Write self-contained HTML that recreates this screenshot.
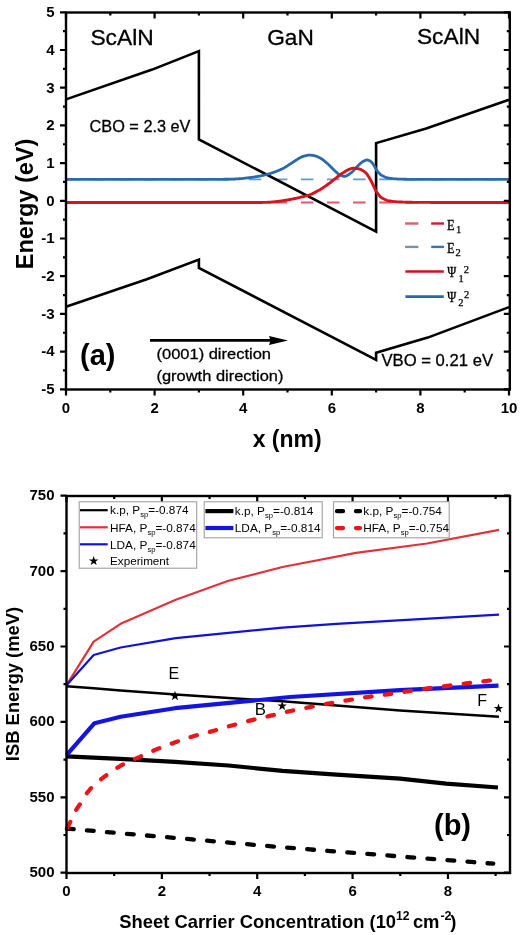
<!DOCTYPE html>
<html><head><meta charset="utf-8"><title>Band diagram and ISB energy</title>
<style>html,body{margin:0;padding:0;background:#fff;} svg{display:block;}</style></head>
<body><svg width="520" height="935" viewBox="0 0 520 935">
<rect width="520" height="935" fill="#fff"/>
<line x1="66.0" y1="179.4" x2="509.8" y2="179.4" stroke="#4a86c4" stroke-width="1.8" stroke-opacity="0.85" stroke-dasharray="12.5 13.6"/>
<line x1="66.0" y1="202.5" x2="509.8" y2="202.5" stroke="#e23a4c" stroke-width="1.8" stroke-opacity="0.85" stroke-dasharray="12.5 13.6"/>
<path d="M66,99.39 L152.2,69.6 L198.9,51.13 L198.9,139.35 L376.1,231.71 L376.1,143.12 L426.2,128.4 L509,99.76" fill="none" stroke="#000" stroke-width="2.6" stroke-linejoin="miter"/>
<path d="M66,306.74 L146.8,279.3 L198.9,259.61 L198.9,267.91 L376.1,359.89 L376.1,352.73 L427.7,337.6 L509,307.11" fill="none" stroke="#000" stroke-width="2.6" stroke-linejoin="miter"/>
<path d="M66,179.4 L67,179.4 L68,179.4 L69,179.4 L70,179.4 L71,179.4 L72,179.4 L73,179.4 L74,179.4 L75,179.4 L76,179.4 L77,179.4 L78,179.4 L79,179.4 L80,179.4 L81,179.4 L82,179.4 L83,179.4 L84,179.4 L85,179.4 L86,179.4 L87,179.4 L88,179.4 L89,179.4 L90,179.4 L91,179.4 L92,179.4 L93,179.4 L94,179.4 L95,179.4 L96,179.4 L97,179.4 L98,179.4 L99,179.4 L100,179.4 L101,179.4 L102,179.4 L103,179.4 L104,179.4 L105,179.4 L106,179.4 L107,179.4 L108,179.4 L109,179.4 L110,179.4 L111,179.4 L112,179.4 L113,179.4 L114,179.4 L115,179.4 L116,179.4 L117,179.4 L118,179.4 L119,179.4 L120,179.4 L121,179.4 L122,179.4 L123,179.4 L124,179.4 L125,179.4 L126,179.4 L127,179.4 L128,179.4 L129,179.4 L130,179.4 L131,179.4 L132,179.4 L133,179.4 L134,179.4 L135,179.4 L136,179.4 L137,179.4 L138,179.4 L139,179.4 L140,179.4 L141,179.4 L142,179.4 L143,179.4 L144,179.4 L145,179.4 L146,179.4 L147,179.4 L148,179.4 L149,179.4 L150,179.4 L151,179.4 L152,179.4 L153,179.4 L154,179.4 L155,179.4 L156,179.4 L157,179.4 L158,179.4 L159,179.4 L160,179.4 L161,179.4 L162,179.4 L163,179.4 L164,179.4 L165,179.4 L166,179.4 L167,179.4 L168,179.4 L169,179.4 L170,179.4 L171,179.4 L172,179.4 L173,179.4 L174,179.4 L175,179.4 L176,179.4 L177,179.4 L178,179.4 L179,179.4 L180,179.4 L181,179.4 L182,179.4 L183,179.4 L184,179.4 L185,179.4 L186,179.4 L187,179.4 L188,179.4 L189,179.4 L190,179.4 L191,179.4 L192,179.4 L193,179.4 L194,179.4 L195,179.4 L196,179.4 L197,179.4 L198,179.4 L199,179.4 L200,179.4 L201,179.4 L202,179.4 L203,179.4 L204,179.4 L205,179.39 L206,179.39 L207,179.39 L208,179.39 L209,179.38 L210,179.38 L211,179.37 L212,179.37 L213,179.36 L214,179.36 L215,179.35 L216,179.34 L217,179.34 L218,179.33 L219,179.32 L220,179.31 L221,179.3 L222,179.29 L223,179.28 L224,179.27 L225,179.26 L226,179.25 L227,179.24 L228,179.23 L229,179.21 L230,179.2 L231,179.18 L232,179.15 L233,179.12 L234,179.07 L235,179.02 L236,178.96 L237,178.9 L238,178.84 L239,178.77 L240,178.7 L241,178.63 L242,178.54 L243,178.44 L244,178.34 L245,178.22 L246,178.11 L247,177.98 L248,177.86 L249,177.73 L250,177.6 L251,177.47 L252,177.33 L253,177.19 L254,177.04 L255,176.89 L256,176.73 L257,176.57 L258,176.4 L259,176.22 L260,176.04 L261,175.85 L262,175.66 L263,175.45 L264,175.23 L265,175 L266,174.75 L267,174.49 L268,174.2 L269,173.91 L270,173.6 L271,173.28 L272,172.95 L273,172.61 L274,172.25 L275,171.88 L276,171.49 L277,171.1 L278,170.69 L279,170.27 L280,169.84 L281,169.38 L282,168.91 L283,168.41 L284,167.89 L285,167.33 L286,166.72 L287,166.09 L288,165.44 L289,164.8 L290,164.15 L291,163.49 L292,162.81 L293,162.14 L294,161.49 L295,160.84 L296,160.2 L297,159.55 L298,158.92 L299,158.33 L300,157.8 L301,157.3 L302,156.83 L303,156.42 L304,156.1 L305,155.84 L306,155.59 L307,155.37 L308,155.21 L309,155.11 L310,155.11 L311,155.18 L312,155.31 L313,155.49 L314,155.69 L315,155.9 L316,156.16 L317,156.51 L318,156.93 L319,157.4 L320,157.9 L321,158.47 L322,159.12 L323,159.85 L324,160.64 L325,161.47 L326,162.33 L327,163.2 L328,164.06 L329,164.98 L330,165.96 L331,166.97 L332,168 L333,169.02 L334,170.01 L335,170.94 L336,171.84 L337,172.77 L338,173.67 L339,174.44 L340,175 L341,175.41 L342,175.79 L343,176.09 L344,176.27 L345,176.28 L346,176.05 L347,175.62 L348,175.05 L349,174.37 L350,173.66 L351,172.96 L352,172.12 L353,171.12 L354,170.02 L355,168.9 L356,167.8 L357,166.81 L358,165.84 L359,164.85 L360,163.88 L361,162.98 L362,162.19 L363,161.55 L364,161.01 L365,160.5 L366,160.13 L367,160 L368,160.16 L369,160.52 L370,161.03 L371,161.63 L372,162.65 L373,164.02 L374,165.5 L375,167.28 L376,169.18 L377,170.73 L378,171.97 L379,173.09 L380,174.07 L381,174.87 L382,175.49 L383,176.04 L384,176.53 L385,176.96 L386,177.32 L387,177.63 L388,177.87 L389,178.08 L390,178.28 L391,178.45 L392,178.61 L393,178.73 L394,178.83 L395,178.9 L396,178.95 L397,178.99 L398,179.04 L399,179.08 L400,179.11 L401,179.15 L402,179.18 L403,179.21 L404,179.23 L405,179.25 L406,179.27 L407,179.28 L408,179.29 L409,179.3 L410,179.3 L411,179.3 L412,179.3 L413,179.3 L414,179.3 L415,179.3 L416,179.3 L417,179.3 L418,179.3 L419,179.3 L420,179.3 L421,179.3 L422,179.3 L423,179.3 L424,179.3 L425,179.3 L426,179.3 L427,179.3 L428,179.3 L429,179.3 L430,179.3 L431,179.3 L432,179.3 L433,179.3 L434,179.3 L435,179.3 L436,179.3 L437,179.3 L438,179.3 L439,179.3 L440,179.3 L441,179.3 L442,179.3 L443,179.3 L444,179.3 L445,179.3 L446,179.3 L447,179.3 L448,179.3 L449,179.3 L450,179.3 L451,179.3 L452,179.3 L453,179.3 L454,179.3 L455,179.3 L456,179.3 L457,179.3 L458,179.3 L459,179.3 L460,179.3 L461,179.3 L462,179.3 L463,179.3 L464,179.3 L465,179.3 L466,179.3 L467,179.3 L468,179.3 L469,179.3 L470,179.3 L471,179.3 L472,179.3 L473,179.3 L474,179.3 L475,179.3 L476,179.3 L477,179.3 L478,179.3 L479,179.3 L480,179.3 L481,179.3 L482,179.3 L483,179.3 L484,179.3 L485,179.3 L486,179.3 L487,179.3 L488,179.3 L489,179.3 L490,179.3 L491,179.3 L492,179.3 L493,179.3 L494,179.3 L495,179.3 L496,179.3 L497,179.3 L498,179.3 L499,179.3 L500,179.3 L501,179.3 L502,179.3 L503,179.3 L504,179.3 L505,179.3 L506,179.3 L507,179.3 L508,179.3 L509,179.3" fill="none" stroke="#2a6aab" stroke-width="2.8" stroke-linejoin="round"/>
<path d="M66,202.5 L67,202.5 L68,202.5 L69,202.5 L70,202.5 L71,202.5 L72,202.5 L73,202.5 L74,202.5 L75,202.5 L76,202.5 L77,202.5 L78,202.5 L79,202.5 L80,202.5 L81,202.5 L82,202.5 L83,202.5 L84,202.5 L85,202.5 L86,202.5 L87,202.5 L88,202.5 L89,202.5 L90,202.5 L91,202.5 L92,202.5 L93,202.5 L94,202.5 L95,202.5 L96,202.5 L97,202.5 L98,202.5 L99,202.5 L100,202.5 L101,202.5 L102,202.5 L103,202.5 L104,202.5 L105,202.5 L106,202.5 L107,202.5 L108,202.5 L109,202.5 L110,202.5 L111,202.5 L112,202.5 L113,202.5 L114,202.5 L115,202.5 L116,202.5 L117,202.5 L118,202.5 L119,202.5 L120,202.5 L121,202.5 L122,202.5 L123,202.5 L124,202.5 L125,202.5 L126,202.5 L127,202.5 L128,202.5 L129,202.5 L130,202.5 L131,202.5 L132,202.5 L133,202.5 L134,202.5 L135,202.5 L136,202.5 L137,202.5 L138,202.5 L139,202.5 L140,202.5 L141,202.5 L142,202.5 L143,202.5 L144,202.5 L145,202.5 L146,202.5 L147,202.5 L148,202.5 L149,202.5 L150,202.5 L151,202.5 L152,202.5 L153,202.5 L154,202.5 L155,202.5 L156,202.5 L157,202.5 L158,202.5 L159,202.5 L160,202.5 L161,202.5 L162,202.5 L163,202.5 L164,202.5 L165,202.5 L166,202.5 L167,202.5 L168,202.5 L169,202.5 L170,202.5 L171,202.5 L172,202.5 L173,202.5 L174,202.5 L175,202.5 L176,202.5 L177,202.5 L178,202.5 L179,202.5 L180,202.5 L181,202.5 L182,202.5 L183,202.5 L184,202.5 L185,202.5 L186,202.5 L187,202.5 L188,202.5 L189,202.5 L190,202.5 L191,202.5 L192,202.5 L193,202.5 L194,202.5 L195,202.5 L196,202.5 L197,202.5 L198,202.5 L199,202.5 L200,202.5 L201,202.5 L202,202.5 L203,202.5 L204,202.5 L205,202.5 L206,202.5 L207,202.5 L208,202.5 L209,202.5 L210,202.5 L211,202.5 L212,202.5 L213,202.5 L214,202.5 L215,202.5 L216,202.5 L217,202.5 L218,202.5 L219,202.5 L220,202.5 L221,202.5 L222,202.5 L223,202.5 L224,202.5 L225,202.5 L226,202.5 L227,202.5 L228,202.5 L229,202.5 L230,202.5 L231,202.5 L232,202.5 L233,202.5 L234,202.5 L235,202.5 L236,202.5 L237,202.5 L238,202.5 L239,202.5 L240,202.5 L241,202.5 L242,202.5 L243,202.5 L244,202.5 L245,202.5 L246,202.5 L247,202.5 L248,202.5 L249,202.5 L250,202.5 L251,202.5 L252,202.5 L253,202.5 L254,202.5 L255,202.5 L256,202.5 L257,202.49 L258,202.49 L259,202.48 L260,202.47 L261,202.45 L262,202.44 L263,202.42 L264,202.4 L265,202.37 L266,202.35 L267,202.33 L268,202.3 L269,202.26 L270,202.21 L271,202.14 L272,202.05 L273,201.95 L274,201.84 L275,201.73 L276,201.61 L277,201.48 L278,201.35 L279,201.22 L280,201.1 L281,200.97 L282,200.84 L283,200.69 L284,200.54 L285,200.38 L286,200.22 L287,200.05 L288,199.88 L289,199.71 L290,199.53 L291,199.34 L292,199.15 L293,198.95 L294,198.75 L295,198.54 L296,198.32 L297,198.1 L298,197.88 L299,197.65 L300,197.42 L301,197.19 L302,196.96 L303,196.72 L304,196.48 L305,196.22 L306,195.95 L307,195.67 L308,195.36 L309,195.03 L310,194.67 L311,194.27 L312,193.84 L313,193.37 L314,192.89 L315,192.38 L316,191.86 L317,191.32 L318,190.77 L319,190.22 L320,189.64 L321,189.03 L322,188.4 L323,187.75 L324,187.08 L325,186.39 L326,185.69 L327,184.99 L328,184.27 L329,183.54 L330,182.78 L331,181.99 L332,181.19 L333,180.39 L334,179.59 L335,178.81 L336,178.04 L337,177.27 L338,176.5 L339,175.73 L340,174.97 L341,174.24 L342,173.53 L343,172.86 L344,172.21 L345,171.55 L346,170.91 L347,170.32 L348,169.8 L349,169.37 L350,169.02 L351,168.68 L352,168.42 L353,168.3 L354,168.32 L355,168.37 L356,168.47 L357,168.58 L358,168.72 L359,168.9 L360,169.22 L361,169.66 L362,170.18 L363,170.74 L364,171.36 L365,172.1 L366,173 L367,174.15 L368,175.64 L369,177.27 L370,178.96 L371,180.8 L372,182.72 L373,184.74 L374,186.94 L375,189.11 L376,190.98 L377,192.5 L378,193.92 L379,195.22 L380,196.34 L381,197.24 L382,197.92 L383,198.52 L384,199.06 L385,199.55 L386,199.98 L387,200.35 L388,200.64 L389,200.86 L390,201.03 L391,201.19 L392,201.33 L393,201.45 L394,201.57 L395,201.67 L396,201.76 L397,201.84 L398,201.9 L399,201.96 L400,202 L401,202.04 L402,202.07 L403,202.1 L404,202.13 L405,202.16 L406,202.19 L407,202.21 L408,202.24 L409,202.26 L410,202.28 L411,202.3 L412,202.32 L413,202.34 L414,202.35 L415,202.36 L416,202.37 L417,202.38 L418,202.39 L419,202.4 L420,202.4 L421,202.4 L422,202.41 L423,202.41 L424,202.41 L425,202.41 L426,202.41 L427,202.42 L428,202.42 L429,202.42 L430,202.42 L431,202.43 L432,202.43 L433,202.43 L434,202.43 L435,202.43 L436,202.44 L437,202.44 L438,202.44 L439,202.44 L440,202.44 L441,202.45 L442,202.45 L443,202.45 L444,202.45 L445,202.45 L446,202.45 L447,202.46 L448,202.46 L449,202.46 L450,202.46 L451,202.46 L452,202.46 L453,202.47 L454,202.47 L455,202.47 L456,202.47 L457,202.47 L458,202.47 L459,202.47 L460,202.47 L461,202.48 L462,202.48 L463,202.48 L464,202.48 L465,202.48 L466,202.48 L467,202.48 L468,202.48 L469,202.48 L470,202.48 L471,202.49 L472,202.49 L473,202.49 L474,202.49 L475,202.49 L476,202.49 L477,202.49 L478,202.49 L479,202.49 L480,202.49 L481,202.49 L482,202.49 L483,202.49 L484,202.49 L485,202.49 L486,202.49 L487,202.5 L488,202.5 L489,202.5 L490,202.5 L491,202.5 L492,202.5 L493,202.5 L494,202.5 L495,202.5 L496,202.5 L497,202.5 L498,202.5 L499,202.5 L500,202.5 L501,202.5 L502,202.5 L503,202.5 L504,202.5 L505,202.5 L506,202.5 L507,202.5 L508,202.5 L509,202.5" fill="none" stroke="#d4141e" stroke-width="2.9" stroke-linejoin="round"/>
<path d="M66.0,12.3 h-6 M509.8,12.3 h-6 M66.0,31.15 h-3 M509.8,31.15 h-3 M66.0,50 h-6 M509.8,50 h-6 M66.0,68.85 h-3 M509.8,68.85 h-3 M66.0,87.7 h-6 M509.8,87.7 h-6 M66.0,106.55 h-3 M509.8,106.55 h-3 M66.0,125.4 h-6 M509.8,125.4 h-6 M66.0,144.25 h-3 M509.8,144.25 h-3 M66.0,163.1 h-6 M509.8,163.1 h-6 M66.0,181.95 h-3 M509.8,181.95 h-3 M66.0,200.8 h-6 M509.8,200.8 h-6 M66.0,219.65 h-3 M509.8,219.65 h-3 M66.0,238.5 h-6 M509.8,238.5 h-6 M66.0,257.35 h-3 M509.8,257.35 h-3 M66.0,276.2 h-6 M509.8,276.2 h-6 M66.0,295.05 h-3 M509.8,295.05 h-3 M66.0,313.9 h-6 M509.8,313.9 h-6 M66.0,332.75 h-3 M509.8,332.75 h-3 M66.0,351.6 h-6 M509.8,351.6 h-6 M66.0,370.45 h-3 M509.8,370.45 h-3 M66.0,389.3 h-6 M509.8,389.3 h-6 M66,389.5 v6 M66,12.5 v6 M110.3,389.5 v3 M110.3,12.5 v3 M154.6,389.5 v6 M154.6,12.5 v6 M198.9,389.5 v3 M198.9,12.5 v3 M243.2,389.5 v6 M243.2,12.5 v6 M287.5,389.5 v3 M287.5,12.5 v3 M331.8,389.5 v6 M331.8,12.5 v6 M376.1,389.5 v3 M376.1,12.5 v3 M420.4,389.5 v6 M420.4,12.5 v6 M464.7,389.5 v3 M464.7,12.5 v3 M509,389.5 v6 M509,12.5 v6" stroke="#000" stroke-width="2.2" fill="none"/>
<rect x="66.0" y="12.5" width="443.8" height="377.0" fill="none" stroke="#000" stroke-width="2.4"/>
<text x="54.5" y="394.1" text-anchor="end" font-family="Liberation Sans, Arial, sans-serif" font-weight="bold" font-size="15">-5</text>
<text x="54.5" y="356.4" text-anchor="end" font-family="Liberation Sans, Arial, sans-serif" font-weight="bold" font-size="15">-4</text>
<text x="54.5" y="318.7" text-anchor="end" font-family="Liberation Sans, Arial, sans-serif" font-weight="bold" font-size="15">-3</text>
<text x="54.5" y="281" text-anchor="end" font-family="Liberation Sans, Arial, sans-serif" font-weight="bold" font-size="15">-2</text>
<text x="54.5" y="243.3" text-anchor="end" font-family="Liberation Sans, Arial, sans-serif" font-weight="bold" font-size="15">-1</text>
<text x="54.5" y="205.6" text-anchor="end" font-family="Liberation Sans, Arial, sans-serif" font-weight="bold" font-size="15">0</text>
<text x="54.5" y="167.9" text-anchor="end" font-family="Liberation Sans, Arial, sans-serif" font-weight="bold" font-size="15">1</text>
<text x="54.5" y="130.2" text-anchor="end" font-family="Liberation Sans, Arial, sans-serif" font-weight="bold" font-size="15">2</text>
<text x="54.5" y="92.5" text-anchor="end" font-family="Liberation Sans, Arial, sans-serif" font-weight="bold" font-size="15">3</text>
<text x="54.5" y="54.8" text-anchor="end" font-family="Liberation Sans, Arial, sans-serif" font-weight="bold" font-size="15">4</text>
<text x="54.5" y="17.1" text-anchor="end" font-family="Liberation Sans, Arial, sans-serif" font-weight="bold" font-size="15">5</text>
<text x="66" y="413" text-anchor="middle" font-family="Liberation Sans, Arial, sans-serif" font-weight="bold" font-size="15">0</text>
<text x="154.6" y="413" text-anchor="middle" font-family="Liberation Sans, Arial, sans-serif" font-weight="bold" font-size="15">2</text>
<text x="243.2" y="413" text-anchor="middle" font-family="Liberation Sans, Arial, sans-serif" font-weight="bold" font-size="15">4</text>
<text x="331.8" y="413" text-anchor="middle" font-family="Liberation Sans, Arial, sans-serif" font-weight="bold" font-size="15">6</text>
<text x="420.4" y="413" text-anchor="middle" font-family="Liberation Sans, Arial, sans-serif" font-weight="bold" font-size="15">8</text>
<text x="509" y="413" text-anchor="middle" font-family="Liberation Sans, Arial, sans-serif" font-weight="bold" font-size="15">10</text>
<text transform="translate(32.7,204) rotate(-90)" text-anchor="middle" font-family="Liberation Sans, Arial, sans-serif" font-weight="bold" font-size="23.5">Energy (eV)</text>
<text x="287.2" y="447" text-anchor="middle" font-family="Liberation Sans, Arial, sans-serif" font-weight="bold" font-size="23">x (nm)</text>
<text x="90.4" y="44.6" text-anchor="start" font-family='Liberation Sans, Arial, sans-serif' font-size="22" stroke="#000" stroke-width="0.3" textLength="63.3" lengthAdjust="spacingAndGlyphs">ScAlN</text>
<text x="267.2" y="44.6" text-anchor="start" font-family='Liberation Sans, Arial, sans-serif' font-size="22.5" stroke="#000" stroke-width="0.3" textLength="46.6" lengthAdjust="spacingAndGlyphs">GaN</text>
<text x="416.9" y="44.3" text-anchor="start" font-family='Liberation Sans, Arial, sans-serif' font-size="22" stroke="#000" stroke-width="0.3" textLength="63.3" lengthAdjust="spacingAndGlyphs">ScAlN</text>
<text x="89.5" y="131.6" text-anchor="start" font-family='Liberation Sans, Arial, sans-serif' font-size="16.6" stroke="#000" stroke-width="0.3" textLength="101" lengthAdjust="spacingAndGlyphs">CBO = 2.3 eV</text>
<text x="381.5" y="366" text-anchor="start" font-family='Liberation Sans, Arial, sans-serif' font-size="16.6" stroke="#000" stroke-width="0.3" textLength="111.5" lengthAdjust="spacingAndGlyphs">VBO = 0.21 eV</text>
<text x="80" y="364.5" text-anchor="start" font-family='Liberation Sans, Arial, sans-serif' font-size="29" font-weight="bold" >(a)</text>
<line x1="150" y1="340.4" x2="272" y2="340.4" stroke="#000" stroke-width="2.8"/>
<path d="M288,340.4 L269,335.9 L270.5,340.4 L269,344.9 Z" fill="#000"/>
<text x="156.5" y="358.8" text-anchor="start" font-family='Liberation Sans, Arial, sans-serif' font-size="15.5" stroke="#000" stroke-width="0.3" textLength="114.5" lengthAdjust="spacingAndGlyphs">(0001) direction</text>
<text x="156.5" y="380.6" text-anchor="start" font-family='Liberation Sans, Arial, sans-serif' font-size="15.5" stroke="#000" stroke-width="0.3" textLength="127" lengthAdjust="spacingAndGlyphs">(growth direction)</text>
<line x1="405.1" y1="223.5" x2="418.4" y2="223.5" stroke="#d9606a" stroke-width="2.4"/>
<line x1="431.2" y1="223.5" x2="444" y2="223.5" stroke="#cc1e32" stroke-width="2.4"/>
<line x1="405.1" y1="246.9" x2="418.4" y2="246.9" stroke="#7a93ad" stroke-width="2.4"/>
<line x1="431.2" y1="246.9" x2="444" y2="246.9" stroke="#3a74b4" stroke-width="2.4"/>
<line x1="405.4" y1="271.5" x2="443.8" y2="271.5" stroke="#c8141e" stroke-width="2.6"/>
<line x1="405.4" y1="296.6" x2="443.8" y2="296.6" stroke="#2a6aab" stroke-width="2.6"/>
<text x="446.9" y="229.7" text-anchor="start" font-family='Liberation Serif, Times New Roman, serif' font-size="14" stroke="#000" stroke-width="0.35" textLength="7.6" lengthAdjust="spacingAndGlyphs">E</text>
<text x="456" y="233" text-anchor="start" font-family='Liberation Serif, Times New Roman, serif' font-size="10.5" stroke="#000" stroke-width="0.25">1</text>
<text x="446.9" y="253" text-anchor="start" font-family='Liberation Serif, Times New Roman, serif' font-size="14" stroke="#000" stroke-width="0.35" textLength="7.6" lengthAdjust="spacingAndGlyphs">E</text>
<text x="455.6" y="256.2" text-anchor="start" font-family='Liberation Serif, Times New Roman, serif' font-size="10.5" stroke="#000" stroke-width="0.25">2</text>
<text x="447.2" y="277.4" text-anchor="start" font-family='Liberation Serif, Times New Roman, serif' font-size="15.2" stroke="#000" stroke-width="0.35" textLength="9" lengthAdjust="spacingAndGlyphs">Ψ</text>
<text x="458.6" y="281.5" text-anchor="start" font-family='Liberation Serif, Times New Roman, serif' font-size="10.5" stroke="#000" stroke-width="0.25">1</text>
<text x="463.8" y="273" text-anchor="start" font-family='Liberation Serif, Times New Roman, serif' font-size="10.5" stroke="#000" stroke-width="0.25">2</text>
<text x="447.2" y="302.4" text-anchor="start" font-family='Liberation Serif, Times New Roman, serif' font-size="15.2" stroke="#000" stroke-width="0.35" textLength="9" lengthAdjust="spacingAndGlyphs">Ψ</text>
<text x="458.3" y="306.2" text-anchor="start" font-family='Liberation Serif, Times New Roman, serif' font-size="10.5" stroke="#000" stroke-width="0.25">2</text>
<text x="464" y="298" text-anchor="start" font-family='Liberation Serif, Times New Roman, serif' font-size="10.5" stroke="#000" stroke-width="0.25">2</text>
<path d="M66.5,828.6 L190,839.2 L280,847.1 L493.2,863.7" fill="none" stroke="#000" stroke-width="4.3" stroke-dasharray="6.8 13.3" stroke-dashoffset="19.72" stroke-linecap="round"/>
<path d="M66.5,756.4 L120,758.8 L175,761.9 L228.5,765.5 L282.5,770.9 L336.5,774.6 L400,778.6 L446,783.7 L498,787.5" fill="none" stroke="#000" stroke-width="4.2" stroke-linejoin="round"/>
<path d="M66.5,686.3 L93.7,688.3 L120.6,690.6 L175.8,694.5 L228.5,698 L282.5,701.3 L336.5,705.5 L400,710.4 L499,716.8" fill="none" stroke="#000" stroke-width="2.5" stroke-linejoin="round"/>
<path d="M66.5,685.2 L93.7,641.6 L120.6,623.8 L175.8,599.8 L228.5,580.8 L282.5,567 L356,552.9 L427,543.5 L499,529.9" fill="none" stroke="#e1323c" stroke-width="2.2" stroke-linejoin="round"/>
<path d="M66.5,685.2 L93.7,655 L120.6,647.5 L175.8,638.1 L228.5,632.8 L282.5,627.6 L336.5,623.8 L499,614.6" fill="none" stroke="#1212d6" stroke-width="2.2" stroke-linejoin="round"/>
<path d="M66.5,755.1 L94.5,723.2 L120.6,716.8 L175,708.2 L250,700.9 L290,697 L400,690.2 L498.5,685.6" fill="none" stroke="#1414e0" stroke-width="4.2" stroke-linejoin="round"/>
<path d="M66.8,829 L67.8,826.93 L68.8,824.89 L69.8,822.92 L70.8,820.94 L71.8,818.86 L72.8,816.58 L73.8,814.33 L74.8,812.34 L75.8,810.55 L76.8,808.89 L77.8,807.31 L78.8,805.84 L79.8,804.49 L80.8,803.1 L81.8,801.51 L82.8,799.68 L83.8,797.81 L84.8,796.1 L85.8,794.64 L86.8,793.27 L87.8,791.98 L88.8,790.75 L89.8,789.58 L90.8,788.46 L91.8,787.4 L92.8,786.38 L93.8,785.41 L94.8,784.49 L95.8,783.6 L96.8,782.73 L97.8,781.89 L98.8,781.05 L99.8,780.24 L100.8,779.45 L101.8,778.67 L102.8,777.92 L103.8,777.17 L104.8,776.43 L105.8,775.69 L106.8,774.96 L107.8,774.22 L108.8,773.49 L109.8,772.76 L110.8,772.05 L111.8,771.35 L112.8,770.66 L113.8,770 L114.8,769.35 L115.8,768.71 L116.8,768.08 L117.8,767.45 L118.8,766.84 L119.8,766.25 L120.8,765.67 L121.8,765.11 L122.8,764.57 L123.8,764.05 L124.8,763.55 L125.8,763.08 L126.8,762.63 L127.8,762.18 L128.8,761.75 L129.8,761.31 L130.8,760.88 L131.8,760.43 L132.8,759.98 L133.8,759.54 L134.8,759.09 L135.8,758.64 L136.8,758.19 L137.8,757.75 L138.8,757.3 L139.8,756.85 L140.8,756.4 L141.8,755.95 L142.8,755.5 L143.8,755.04 L144.8,754.58 L145.8,754.12 L146.8,753.65 L147.8,753.19 L148.8,752.72 L149.8,752.26 L150.8,751.81 L151.8,751.36 L152.8,750.91 L153.8,750.48 L154.8,750.05 L155.8,749.63 L156.8,749.22 L157.8,748.82 L158.8,748.42 L159.8,748.02 L160.8,747.63 L161.8,747.24 L162.8,746.85 L163.8,746.47 L164.8,746.09 L165.8,745.72 L166.8,745.34 L167.8,744.97 L168.8,744.61 L169.8,744.24 L170.8,743.88 L171.8,743.52 L172.8,743.16 L173.8,742.8 L174.8,742.44 L175.8,742.09 L176.8,741.74 L177.8,741.38 L178.8,741.03 L179.8,740.68 L180.8,740.33 L181.8,739.98 L182.8,739.64 L183.8,739.29 L184.8,738.95 L185.8,738.62 L186.8,738.28 L187.8,737.96 L188.8,737.63 L189.8,737.31 L190.8,737 L191.8,736.69 L192.8,736.39 L193.8,736.09 L194.8,735.81 L195.8,735.53 L196.8,735.25 L197.8,734.98 L198.8,734.71 L199.8,734.45 L200.8,734.19 L201.8,733.93 L202.8,733.68 L203.8,733.42 L204.8,733.17 L205.8,732.91 L206.8,732.66 L207.8,732.4 L208.8,732.14 L209.8,731.87 L210.8,731.6 L211.8,731.33 L212.8,731.05 L213.8,730.77 L214.8,730.48 L215.8,730.19 L216.8,729.9 L217.8,729.61 L218.8,729.31 L219.8,729.02 L220.8,728.72 L221.8,728.42 L222.8,728.13 L223.8,727.83 L224.8,727.53 L225.8,727.24 L226.8,726.95 L227.8,726.66 L228.8,726.37 L229.8,726.08 L230.8,725.8 L231.8,725.52 L232.8,725.24 L233.8,724.96 L234.8,724.68 L235.8,724.4 L236.8,724.13 L237.8,723.85 L238.8,723.57 L239.8,723.3 L240.8,723.03 L241.8,722.76 L242.8,722.49 L243.8,722.22 L244.8,721.95 L245.8,721.69 L246.8,721.42 L247.8,721.16 L248.8,720.91 L249.8,720.65 L250.8,720.4 L251.8,720.15 L252.8,719.9 L253.8,719.65 L254.8,719.41 L255.8,719.17 L256.8,718.93 L257.8,718.69 L258.8,718.46 L259.8,718.22 L260.8,717.99 L261.8,717.75 L262.8,717.52 L263.8,717.29 L264.8,717.05 L265.8,716.82 L266.8,716.59 L267.8,716.35 L268.8,716.12 L269.8,715.88 L270.8,715.65 L271.8,715.41 L272.8,715.17 L273.8,714.93 L274.8,714.69 L275.8,714.45 L276.8,714.21 L277.8,713.96 L278.8,713.72 L279.8,713.48 L280.8,713.24 L281.8,713 L282.8,712.76 L283.8,712.52 L284.8,712.29 L285.8,712.06 L286.8,711.83 L287.8,711.6 L288.8,711.37 L289.8,711.15 L290.8,710.94 L291.8,710.72 L292.8,710.51 L293.8,710.3 L294.8,710.09 L295.8,709.89 L296.8,709.69 L297.8,709.49 L298.8,709.29 L299.8,709.09 L300.8,708.89 L301.8,708.7 L302.8,708.5 L303.8,708.31 L304.8,708.11 L305.8,707.92 L306.8,707.72 L307.8,707.53 L308.8,707.33 L309.8,707.14 L310.8,706.94 L311.8,706.74 L312.8,706.55 L313.8,706.35 L314.8,706.15 L315.8,705.95 L316.8,705.75 L317.8,705.55 L318.8,705.36 L319.8,705.16 L320.8,704.96 L321.8,704.77 L322.8,704.57 L323.8,704.38 L324.8,704.19 L325.8,704 L326.8,703.81 L327.8,703.63 L328.8,703.44 L329.8,703.26 L330.8,703.09 L331.8,702.91 L332.8,702.73 L333.8,702.56 L334.8,702.39 L335.8,702.22 L336.8,702.05 L337.8,701.88 L338.8,701.71 L339.8,701.55 L340.8,701.38 L341.8,701.22 L342.8,701.05 L343.8,700.89 L344.8,700.72 L345.8,700.56 L346.8,700.4 L347.8,700.23 L348.8,700.07 L349.8,699.9 L350.8,699.73 L351.8,699.57 L352.8,699.4 L353.8,699.23 L354.8,699.07 L355.8,698.9 L356.8,698.73 L357.8,698.57 L358.8,698.4 L359.8,698.24 L360.8,698.07 L361.8,697.91 L362.8,697.75 L363.8,697.59 L364.8,697.44 L365.8,697.28 L366.8,697.13 L367.8,696.99 L368.8,696.84 L369.8,696.7 L370.8,696.56 L371.8,696.42 L372.8,696.28 L373.8,696.15 L374.8,696.02 L375.8,695.88 L376.8,695.75 L377.8,695.62 L378.8,695.49 L379.8,695.36 L380.8,695.23 L381.8,695.1 L382.8,694.97 L383.8,694.84 L384.8,694.71 L385.8,694.57 L386.8,694.44 L387.8,694.3 L388.8,694.16 L389.8,694.01 L390.8,693.87 L391.8,693.73 L392.8,693.58 L393.8,693.43 L394.8,693.28 L395.8,693.13 L396.8,692.98 L397.8,692.83 L398.8,692.68 L399.8,692.53 L400.8,692.38 L401.8,692.23 L402.8,692.08 L403.8,691.92 L404.8,691.77 L405.8,691.63 L406.8,691.48 L407.8,691.33 L408.8,691.18 L409.8,691.04 L410.8,690.89 L411.8,690.74 L412.8,690.59 L413.8,690.45 L414.8,690.3 L415.8,690.15 L416.8,690 L417.8,689.86 L418.8,689.71 L419.8,689.57 L420.8,689.42 L421.8,689.28 L422.8,689.13 L423.8,688.99 L424.8,688.85 L425.8,688.71 L426.8,688.57 L427.8,688.43 L428.8,688.29 L429.8,688.15 L430.8,688.02 L431.8,687.88 L432.8,687.75 L433.8,687.62 L434.8,687.49 L435.8,687.36 L436.8,687.22 L437.8,687.09 L438.8,686.96 L439.8,686.83 L440.8,686.7 L441.8,686.58 L442.8,686.45 L443.8,686.32 L444.8,686.19 L445.8,686.06 L446.8,685.93 L447.8,685.8 L448.8,685.66 L449.8,685.53 L450.8,685.4 L451.8,685.27 L452.8,685.14 L453.8,685.01 L454.8,684.88 L455.8,684.74 L456.8,684.61 L457.8,684.48 L458.8,684.35 L459.8,684.22 L460.8,684.09 L461.8,683.96 L462.8,683.83 L463.8,683.71 L464.8,683.58 L465.8,683.45 L466.8,683.33 L467.8,683.2 L468.8,683.07 L469.8,682.95 L470.8,682.82 L471.8,682.7 L472.8,682.58 L473.8,682.45 L474.8,682.33 L475.8,682.21 L476.8,682.08 L477.8,681.96 L478.8,681.84 L479.8,681.72 L480.8,681.6 L481.8,681.48 L482.8,681.36 L483.8,681.23 L484.8,681.12 L485.8,681 L486.8,680.88 L487.8,680.76 L488.8,680.64 L489.8,680.52 L490.8,680.41" fill="none" stroke="#ec1419" stroke-width="4.2" stroke-dasharray="6.6 13.3" stroke-dashoffset="18.51" stroke-linecap="round"/>
<path d="M175,690.7 L176.25,694.28 L180.04,694.36 L177.02,696.66 L178.12,700.29 L175,698.12 L171.88,700.29 L172.98,696.66 L169.96,694.36 L173.75,694.28 Z" fill="#000"/>
<path d="M282.2,701 L283.38,704.38 L286.96,704.45 L284.1,706.62 L285.14,710.05 L282.2,708 L279.26,710.05 L280.3,706.62 L277.44,704.45 L281.02,704.38 Z" fill="#000"/>
<path d="M498.5,703.5 L499.68,706.88 L503.26,706.95 L500.4,709.12 L501.44,712.55 L498.5,710.5 L495.56,712.55 L496.6,709.12 L493.74,706.95 L497.32,706.88 Z" fill="#000"/>
<text x="168.5" y="678.9" text-anchor="start" font-family='Liberation Sans, Arial, sans-serif' font-size="16" >E</text>
<text x="254.8" y="715" text-anchor="start" font-family='Liberation Sans, Arial, sans-serif' font-size="16" textLength="11.2" lengthAdjust="spacingAndGlyphs">B</text>
<text x="477.2" y="705.8" text-anchor="start" font-family='Liberation Sans, Arial, sans-serif' font-size="16" >F</text>
<path d="M66.5,872.7 h-6 M510.0,872.7 h-6 M66.5,835 h-3 M510.0,835 h-3 M66.5,797.3 h-6 M510.0,797.3 h-6 M66.5,759.6 h-3 M510.0,759.6 h-3 M66.5,721.9 h-6 M510.0,721.9 h-6 M66.5,684.2 h-3 M510.0,684.2 h-3 M66.5,646.5 h-6 M510.0,646.5 h-6 M66.5,608.8 h-3 M510.0,608.8 h-3 M66.5,571.1 h-6 M510.0,571.1 h-6 M66.5,533.4 h-3 M510.0,533.4 h-3 M66.5,495.7 h-6 M510.0,495.7 h-6 M66.5,873.0 v6 M66.5,496.0 v6 M114.18,873.0 v3 M114.18,496.0 v3 M161.86,873.0 v6 M161.86,496.0 v6 M209.54,873.0 v3 M209.54,496.0 v3 M257.22,873.0 v6 M257.22,496.0 v6 M304.9,873.0 v3 M304.9,496.0 v3 M352.58,873.0 v6 M352.58,496.0 v6 M400.26,873.0 v3 M400.26,496.0 v3 M447.94,873.0 v6 M447.94,496.0 v6 M495.62,873.0 v3 M495.62,496.0 v3" stroke="#000" stroke-width="2.2" fill="none"/>
<rect x="66.5" y="496.0" width="443.5" height="377.0" fill="none" stroke="#000" stroke-width="2.4"/>
<text x="54.5" y="877.1" text-anchor="end" font-family='Liberation Sans, Arial, sans-serif' font-size="15" font-weight="bold" >500</text>
<text x="54.5" y="801.7" text-anchor="end" font-family='Liberation Sans, Arial, sans-serif' font-size="15" font-weight="bold" >550</text>
<text x="54.5" y="726.3" text-anchor="end" font-family='Liberation Sans, Arial, sans-serif' font-size="15" font-weight="bold" >600</text>
<text x="54.5" y="650.9" text-anchor="end" font-family='Liberation Sans, Arial, sans-serif' font-size="15" font-weight="bold" >650</text>
<text x="54.5" y="575.5" text-anchor="end" font-family='Liberation Sans, Arial, sans-serif' font-size="15" font-weight="bold" >700</text>
<text x="54.5" y="500.1" text-anchor="end" font-family='Liberation Sans, Arial, sans-serif' font-size="15" font-weight="bold" >750</text>
<text x="66.5" y="896" text-anchor="middle" font-family='Liberation Sans, Arial, sans-serif' font-size="15" font-weight="bold" >0</text>
<text x="161.86" y="896" text-anchor="middle" font-family='Liberation Sans, Arial, sans-serif' font-size="15" font-weight="bold" >2</text>
<text x="257.22" y="896" text-anchor="middle" font-family='Liberation Sans, Arial, sans-serif' font-size="15" font-weight="bold" >4</text>
<text x="352.58" y="896" text-anchor="middle" font-family='Liberation Sans, Arial, sans-serif' font-size="15" font-weight="bold" >6</text>
<text x="447.94" y="896" text-anchor="middle" font-family='Liberation Sans, Arial, sans-serif' font-size="15" font-weight="bold" >8</text>
<text transform="translate(19.4,684) rotate(-90)" text-anchor="middle" font-family='Liberation Sans, Arial, sans-serif' font-weight="bold" font-size="18.4">ISB Energy (meV)</text>
<text x="119.3" y="927.7" font-family='Liberation Sans, Arial, sans-serif' font-weight="bold" font-size="18.4" textLength="276.8" lengthAdjust="spacingAndGlyphs">Sheet Carrier Concentration (10</text>
<text x="396.1" y="920.2" text-anchor="start" font-family='Liberation Sans, Arial, sans-serif' font-size="12.2" font-weight="bold" >12</text>
<text x="412.9" y="927.7" text-anchor="start" font-family='Liberation Sans, Arial, sans-serif' font-size="18.4" font-weight="bold" >cm</text>
<text x="440.4" y="920.2" text-anchor="start" font-family='Liberation Sans, Arial, sans-serif' font-size="12.6" font-weight="bold" >-2</text>
<text x="450.2" y="927.7" text-anchor="start" font-family='Liberation Sans, Arial, sans-serif' font-size="18.4" font-weight="bold" >)</text>
<text x="434" y="835.3" text-anchor="start" font-family='Liberation Sans, Arial, sans-serif' font-size="29" font-weight="bold" >(b)</text>
<rect x="79.2" y="501.8" width="117.5" height="66.4" fill="#fff" stroke="#a0a0a0" stroke-width="1.1"/>
<line x1="80" y1="510.2" x2="107.7" y2="510.2" stroke="#000" stroke-width="2.2"/>
<line x1="80" y1="527.3" x2="107.7" y2="527.3" stroke="#e1323c" stroke-width="2.2"/>
<line x1="80" y1="544.3" x2="107.7" y2="544.3" stroke="#1212d6" stroke-width="2.2"/>
<text x="110" y="514.4" font-family='Liberation Sans, Arial, sans-serif' font-size="11.8">k.p, P<tspan dy="3" font-size="7.6">sp</tspan><tspan dy="-3">=-0.874</tspan></text>
<text x="110" y="531.5" font-family='Liberation Sans, Arial, sans-serif' font-size="11.8">HFA, P<tspan dy="3" font-size="7.6">sp</tspan><tspan dy="-3">=-0.874</tspan></text>
<text x="110" y="548.5" font-family='Liberation Sans, Arial, sans-serif' font-size="11.8">LDA, P<tspan dy="3" font-size="7.6">sp</tspan><tspan dy="-3">=-0.874</tspan></text>
<path d="M93.7,556 L94.88,559.38 L98.46,559.45 L95.6,561.62 L96.64,565.05 L93.7,563 L90.76,565.05 L91.8,561.62 L88.94,559.45 L92.52,559.38 Z" fill="#000"/>
<text x="110" y="564.9" font-family='Liberation Sans, Arial, sans-serif' font-size="11.7">Experiment</text>
<rect x="204.2" y="501.8" width="118" height="36" fill="#fff" stroke="#a0a0a0" stroke-width="1.1"/>
<line x1="205.4" y1="511.1" x2="233.4" y2="511.1" stroke="#000" stroke-width="4.2"/>
<line x1="205.4" y1="528" x2="233.4" y2="528" stroke="#1414e0" stroke-width="4.2"/>
<text x="234.8" y="515.3" font-family='Liberation Sans, Arial, sans-serif' font-size="11.8">k.p, P<tspan dy="3" font-size="7.6">sp</tspan><tspan dy="-3">=-0.814</tspan></text>
<text x="234.8" y="532.2" font-family='Liberation Sans, Arial, sans-serif' font-size="11.8">LDA, P<tspan dy="3" font-size="7.6">sp</tspan><tspan dy="-3">=-0.814</tspan></text>
<rect x="333.5" y="501.8" width="115.7" height="36" fill="#fff" stroke="#a0a0a0" stroke-width="1.1"/>
<line x1="337" y1="511.2" x2="360" y2="511.2" stroke="#000" stroke-width="4.3" stroke-dasharray="6 13" stroke-linecap="round"/>
<line x1="337" y1="528.1" x2="360" y2="528.1" stroke="#ec1419" stroke-width="4.3" stroke-dasharray="6 13" stroke-linecap="round"/>
<text x="363.3" y="515.3" font-family='Liberation Sans, Arial, sans-serif' font-size="11.8">k.p, P<tspan dy="3" font-size="7.6">sp</tspan><tspan dy="-3">=-0.754</tspan></text>
<text x="363.3" y="532.2" font-family='Liberation Sans, Arial, sans-serif' font-size="11.8">HFA, P<tspan dy="3" font-size="7.6">sp</tspan><tspan dy="-3">=-0.754</tspan></text>
</svg></body></html>
